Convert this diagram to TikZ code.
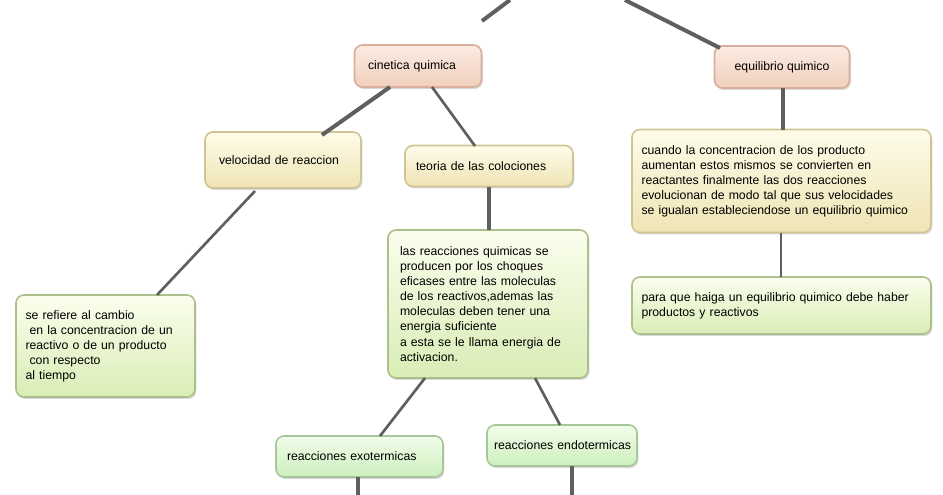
\documentclass[tikz,border=0pt]{standalone}
\usepackage{fontspec}
\setmainfont{Liberation Sans}
\usetikzlibrary{shadows}
\definecolor{otop}{HTML}{FBEBE2}\definecolor{obot}{HTML}{F1CFBD}\definecolor{oedge}{HTML}{D9AE9A}
\definecolor{ytop}{HTML}{FEFCEA}\definecolor{ybot}{HTML}{EFE4B4}\definecolor{yedge}{HTML}{CFC493}
\definecolor{gtop}{HTML}{FBFEEE}\definecolor{gbot}{HTML}{D9EDB5}\definecolor{gedge}{HTML}{AEBF8E}
\definecolor{ltop}{HTML}{F1FDEA}\definecolor{lbot}{HTML}{CDEFBE}\definecolor{ledge}{HTML}{A6C79A}
\definecolor{lin}{HTML}{5F5F5F}
\begin{document}
\begin{tikzpicture}[x=0.75pt,y=-0.75pt,
  box/.style={rounded corners=6pt,draw,line width=1.2pt,align=left,inner sep=0pt,
    font=\fontsize{9.2}{11.3}\selectfont,drop shadow={shadow xshift=1pt,shadow yshift=-1.5pt,fill=black!30}},
  obox/.style={box,draw=oedge,top color=otop,bottom color=obot},
  ybox/.style={box,draw=yedge,top color=ytop,bottom color=ybot},
  gbox/.style={box,draw=gedge,top color=gtop,bottom color=gbot},
  lbox/.style={box,draw=ledge,top color=ltop,bottom color=lbot},
  con/.style={draw=lin,line width=3pt},
  thin/.style={draw=lin,line width=2pt}]
\useasboundingbox (0,0) rectangle (943,495);
\node[obox,minimum width=127*0.75pt,minimum height=42*0.75pt,text width=100*0.75pt] (cin) at (418,66) {cinetica quimica};
\node[obox,minimum width=135*0.75pt,minimum height=42*0.75pt] (equ) at (782,67) {equilibrio quimico};
\node[ybox,minimum width=156*0.75pt,minimum height=56*0.75pt,text width=128*0.75pt] (vel) at (283,160) {velocidad de reaccion};
\node[ybox,minimum width=168*0.75pt,minimum height=41*0.75pt,text width=146*0.75pt] (teo) at (489,166) {teoria de las colociones};
\node[gbox,minimum width=179*0.75pt,minimum height=102*0.75pt,text width=160*0.75pt] (ser) at (105.5,346) {se refiere al cambio\\\ en la concentracion de un\\reactivo o de un producto\\\ con respecto\\al tiempo};
\node[gbox,minimum width=200*0.75pt,minimum height=148*0.75pt,text width=176*0.75pt] (las) at (488,304) {las reacciones quimicas se\\producen por los choques\\eficases entre las moleculas\\de los reactivos,ademas las\\moleculas deben tener una\\energia suficiente\\a esta se le llama energia de\\activacion.};
\node[ybox,minimum width=299*0.75pt,minimum height=103*0.75pt,text width=280*0.75pt] (cua) at (781.5,181) {cuando la concentracion de los producto\\aumentan estos mismos se convierten en\\reactantes finalmente las dos reacciones\\evolucionan de modo tal que sus velocidades\\se igualan estableciendose un equilibrio quimico};
\node[gbox,minimum width=299*0.75pt,minimum height=57*0.75pt,text width=280*0.75pt] (par) at (781.5,305.5) {para que haiga un equilibrio quimico debe haber\\productos y reactivos};
\node[lbox,minimum width=167*0.75pt,minimum height=41*0.75pt,text width=145*0.75pt] (exo) at (359.5,456.5) {reacciones exotermicas};
\node[lbox,minimum width=150*0.75pt,minimum height=41*0.75pt,text width=136*0.75pt] (end) at (562,445.5) {\mbox{reacciones endotermicas}};
\coordinate (t1) at (510,0); \coordinate (t2) at (625,0);
\coordinate (b1) at (358,495); \coordinate (b2) at (572,495);
\draw[con] (t1) -- (482,21);
\draw[con] (t2) -- (720,48);
\draw[con] (390,87) -- (322,135);
\draw[thin] (432,87) -- (475,146);
\draw[con] (489,187) -- (489,230);
\draw[thin] (255,191) -- (157,295);
\draw[con] (783,88) -- (783,130);
\draw[thin] (781,233) -- (781,277);
\draw[thin] (425,378) -- (380,436);
\draw[thin] (535,378) -- (560,425);
\draw[con] (358,477) -- (b1);
\draw[con] (572,466) -- (b2);
\end{tikzpicture}
\end{document}
